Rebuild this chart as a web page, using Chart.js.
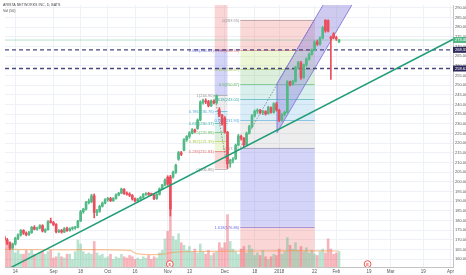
<!DOCTYPE html>
<html lang="en">
<head>
  <meta charset="UTF-8" />
  <title>ARISTA NETWORKS INC, D, BATS</title>
  <style>
    html, body { margin: 0; padding: 0; background: #fff; }
    canvas { display: block; }
  </style>
</head>
<body>
  <canvas id="chart" width="466" height="275"></canvas>

  <script src="https://cdn.jsdelivr.net/npm/chart.js"></script>
  <script>
    // daily bars, x = trading-day number (0 = 1 Sep 2017)
    const firstBar = -18;
    const opens = [
      171.4,170.0,168.4,165.8,167.9,170.9,172.6,174.9,173.5,172.7,
      173.8,176.5,175.6,176.1,177.4,174.5,175.3,179.8,179.0,178.0,
      174.2,174.9,174.1,175.9,174.8,175.8,176.2,176.5,179.8,184.6,
      185.9,189.4,189.8,192.8,184.2,184.9,187.4,189.0,190.8,191.5,
      190.3,191.5,193.2,194.2,196.1,194.0,193.7,193.1,191.2,190.2,
      191.2,192.0,193.5,194.0,193.6,193.4,191.4,193.6,196.4,198.3,
      202.4,202.6,202.6,205.0,211.8,215.0,216.4,221.8,223.5,225.4,
      226.9,227.6,232.0,241.2,242.0,241.6,239.4,241.9,240.9,237.4,
      234.5,233.0,225.6,209.6,211.2,212.0,219.0,223.6,222.6,219.2,
      225.2,228.6,234.2,236.6,237.0,235.8,236.4,235.4,238.4,236.0,
      240.4,237.0,232.0,234.8,236.0,251.8,250.4,252.0,259.2,261.6,
      254.0,260.6,263.6,266.0,268.2,272.4,271.2,274.4,283.6,283.4,
      274.8,276.6,274.6,272.6
    ];
    const highs = [
      172.2,170.8,169.0,168.4,171.4,173.2,175.4,175.3,174.2,174.4,
      177.0,177.4,176.7,177.9,177.9,175.8,180.0,181.3,179.6,178.5,
      175.4,175.5,176.4,176.6,176.3,176.8,177.0,180.2,185.3,186.4,
      190.0,191.2,193.6,193.8,185.8,188.0,189.6,191.4,192.0,192.0,
      191.9,193.8,194.6,196.8,196.6,194.9,194.4,193.5,191.8,191.6,
      192.6,194.0,194.5,194.6,194.2,193.9,194.0,196.9,198.8,201.6,
      203.2,203.4,205.6,209.2,215.8,215.8,222.4,224.0,226.0,227.6,
      227.4,232.6,242.0,242.8,243.0,242.2,242.4,242.5,245.0,238.4,
      235.0,233.8,226.2,211.8,212.6,219.6,224.6,224.2,223.0,225.8,
      229.4,234.8,237.2,237.8,237.6,237.0,236.9,239.2,238.8,241.0,
      241.2,237.6,235.4,236.6,252.4,252.2,252.6,259.8,262.4,262.4,
      261.0,264.2,266.6,268.8,273.0,273.4,275.0,280.4,283.95,283.9,
      275.4,277.2,275.4,273.8
    ];
    const lows = [
      169.6,167.6,165.0,165.2,167.4,170.2,172.0,172.8,172.1,172.3,
      173.4,175.2,175.0,175.7,174.1,173.8,175.0,178.7,177.4,173.6,
      173.8,173.5,173.8,174.4,174.5,175.1,175.5,176.2,179.5,183.8,
      185.4,188.6,189.2,181.4,182.6,184.3,187.0,188.6,190.0,189.8,
      189.9,191.1,192.8,193.9,193.5,193.2,192.4,190.6,189.6,189.9,
      190.7,191.6,193.0,193.0,192.9,190.8,191.0,193.2,196.0,197.9,
      198.2,182.4,202.0,204.4,211.2,213.6,216.0,221.0,222.6,224.8,
      225.6,227.2,231.6,240.2,240.5,238.8,239.0,240.4,240.5,233.8,
      229.4,225.2,206.9,207.6,209.8,211.6,218.6,221.6,218.2,218.8,
      224.8,228.0,233.6,235.4,235.2,234.8,234.6,235.0,235.6,235.6,
      236.6,231.2,231.4,234.2,235.6,249.6,250.0,251.6,258.6,253.0,
      253.6,259.8,263.0,265.6,267.8,270.6,270.8,274.0,277.4,277.6,
      253.0,274.0,273.2,272.0
    ];
    const closes = [
      170.0,168.2,165.8,167.9,170.9,172.6,174.9,173.5,172.7,173.8,
      176.5,175.6,176.1,177.4,174.6,175.3,179.4,179.0,178.0,174.2,
      174.9,174.1,175.9,174.8,175.8,176.2,176.5,179.8,184.6,185.9,
      189.4,190.1,192.8,184.2,184.9,187.4,189.0,190.8,191.5,190.3,
      191.5,193.2,194.2,196.3,194.0,193.7,193.1,191.2,190.2,191.2,
      192.0,193.5,194.0,193.6,193.4,191.4,193.6,196.4,198.3,201.0,
      198.8,186.0,205.0,208.6,215.2,214.3,221.8,223.5,225.4,226.9,
      226.1,232.0,241.2,242.0,241.4,239.4,241.9,240.9,244.4,234.5,
      230.0,226.0,209.4,211.2,211.6,219.0,223.8,222.6,219.2,225.2,
      228.6,234.2,236.6,237.0,235.8,236.4,235.2,238.6,236.0,240.4,
      237.2,232.0,234.8,236.0,251.8,250.4,252.0,259.2,261.6,254.0,
      260.6,263.6,266.0,268.2,272.4,271.2,274.4,279.8,278.2,278.0,
      274.2,274.6,274.0,273.4
    ];
    // volume, millions
    const volumes = [
      2.4,2.1,1.9,1.3,1.1,1.3,1.0,1.0,1.3,1.1,
      1.3,1.0,0.9,1.1,1.2,1.0,1.2,1.3,0.7,0.8,
      1.1,0.8,0.7,1.0,1.0,0.6,1.2,2.1,1.8,1.2,
      1.0,1.1,1.0,2.0,1.1,0.9,1.0,0.7,0.8,1.0,
      0.6,0.8,0.7,1.0,0.8,0.7,0.9,0.8,0.6,0.7,
      0.6,0.8,0.7,0.9,0.6,0.8,0.7,1.1,1.3,2.2,
      2.8,5.1,2.4,2.1,2.6,1.9,1.7,1.3,1.6,1.2,
      1.4,1.1,1.8,1.2,1.0,1.3,0.9,1.1,1.2,1.9,
      1.5,1.9,4.1,2.0,1.4,1.2,1.0,1.4,1.6,1.1,
      1.7,1.4,0.9,1.1,0.9,1.3,0.8,0.6,0.8,1.0,
      0.9,1.4,1.0,1.2,2.3,1.7,1.4,1.9,1.3,1.6,
      1.2,1.5,1.1,1.3,1.0,0.9,1.2,1.4,1.1,2.2,
      1.4,1.0,1.1,1.2
    ];
    const volMaX = [-18, 0, 28, 31, 40, 44, 55, 75, 90, 105];
    const volMaY = [1.38, 1.35, 1.3, 1.02, 1.0, 1.15, 1.22, 1.25, 1.28, 1.25];

    const tickPos = [-14, 0, 10, 20, 30, 42, 50, 63, 74, 83, 96, 104, 116, 124, 136, 146];
    const tickLabels = ['14', 'Sep', '18', 'Oct', '16', 'Nov', '13', 'Dec', '18', '2018', '22', 'Feb', '19', 'Mar', '19', 'Apr'];

    // drawings
    const trendX = [-18, 147];
    const trendY = [154.0, 273.8];
    const hLevels = [268.33, 258.67];
    const fibRatios = [0, 0.236, 0.382, 0.5, 0.618, 0.786, 1, 1.618, 2.618];
    const fib1X = [59.3, 64.0];
    const fib1Levels = [206.86, 215.84, 221.39, 225.88, 230.37, 236.76, 244.90, 268.41, 306.45];
    const fib2X = [68.7, 96.0];
    const fib2Levels = [283.95, 268.33, 258.67, 250.87, 243.05, 231.93, 217.76, 176.86, 110.68];
    const channelX = [82.2, 112];
    const channelTop = [250.9, 322.4];
    const channelBottom = [225.5, 297.0];
    const earningsX = [42.8, 115.5];
    const earningsY = [157.5, 157.5];

    const xMin = -17.8, xMax = 146.9;
    const up = '#53b987', down = '#eb4d5c';
    const fibLine = ['#8a8a8a', '#e05a5a', '#9cc43c', '#4caf50', '#26a69a', '#42a0d8', '#8a8a8a', '#5c5ce0', '#e05a5a'];
    const fibFill = [null, 'rgba(235,90,90,0.24)', 'rgba(170,210,60,0.2)', 'rgba(76,175,80,0.2)', 'rgba(38,166,154,0.18)',
      'rgba(66,160,216,0.2)', 'rgba(140,140,140,0.16)', 'rgba(100,100,230,0.28)', 'rgba(235,90,90,0.25)'];

    Chart.defaults.font.family = '"Liberation Sans", Arial, sans-serif';

    const barX = closes.map((c, i) => firstBar + i);
    const isUp = closes.map((c, i) => c >= opens[i]);
    const lastClose = closes[closes.length - 1];
    const pts = (xs, ys) => xs.map((x, i) => ({ x, y: ys[i] }));

    function drawFib(ctx, x, y, range, levels) {
      const x0 = x.getPixelForValue(range[0]);
      const x1 = x.getPixelForValue(range[1]);
      for (let i = 1; i < levels.length; i++) {
        const ya = y.getPixelForValue(levels[i - 1]);
        const yb = y.getPixelForValue(levels[i]);
        ctx.fillStyle = fibFill[i];
        ctx.fillRect(x0, Math.min(ya, yb), x1 - x0, Math.abs(yb - ya));
      }
      ctx.font = '4px "Liberation Sans", Arial, sans-serif';
      ctx.textAlign = 'right';
      ctx.textBaseline = 'middle';
      levels.forEach((v, i) => {
        const yy = Math.round(y.getPixelForValue(v)) + 0.5;
        ctx.globalAlpha = 0.55;
        ctx.strokeStyle = fibLine[i];
        ctx.lineWidth = 1;
        ctx.beginPath();
        ctx.moveTo(x0, yy);
        ctx.lineTo(x1, yy);
        ctx.stroke();
        ctx.globalAlpha = 0.9;
        ctx.fillStyle = fibLine[i];
        ctx.fillText(fibRatios[i] + '(' + v.toFixed(2) + ')', x0 - 1, yy);
        ctx.globalAlpha = 1;
      });
      // dotted diagonal between the two anchor points
      ctx.setLineDash([1.5, 1.5]);
      ctx.strokeStyle = 'rgba(110,110,110,0.7)';
      ctx.beginPath();
      ctx.moveTo(x0, y.getPixelForValue(levels[6]));
      ctx.lineTo(x1, y.getPixelForValue(levels[0]));
      ctx.stroke();
      ctx.setLineDash([]);
    }

    const drawings = {
      id: 'drawings',
      beforeDatasetsDraw(chart) {
        const { ctx, chartArea: a, scales: { x, y } } = chart;
        ctx.save();
        ctx.beginPath();
        ctx.rect(a.left, a.top, a.right - a.left, a.bottom - a.top);
        ctx.clip();
        drawFib(ctx, x, y, fib1X, fib1Levels);
        drawFib(ctx, x, y, fib2X, fib2Levels);

        const cx0 = x.getPixelForValue(channelX[0]), cx1 = x.getPixelForValue(channelX[1]);
        ctx.beginPath();
        ctx.moveTo(cx0, y.getPixelForValue(channelTop[0]));
        ctx.lineTo(cx1, y.getPixelForValue(channelTop[1]));
        ctx.lineTo(cx1, y.getPixelForValue(channelBottom[1]));
        ctx.lineTo(cx0, y.getPixelForValue(channelBottom[0]));
        ctx.closePath();
        ctx.fillStyle = 'rgba(140,130,220,0.42)';
        ctx.fill();
        ctx.strokeStyle = 'rgba(130,120,215,0.9)';
        ctx.lineWidth = 1;
        ctx.stroke();
        ctx.restore();
      },
      afterDraw(chart) {
        const { ctx, chartArea: a, scales: { y } } = chart;
        ctx.save();
        // price tags on the axis
        const tag = (v, bg) => {
          const yy = y.getPixelForValue(v);
          ctx.fillStyle = bg;
          ctx.fillRect(a.right, yy - 3, 466 - a.right, 6);
          ctx.fillStyle = '#fff';
          ctx.font = '4px "Liberation Sans", Arial, sans-serif';
          ctx.textAlign = 'left';
          ctx.textBaseline = 'middle';
          ctx.fillText(v.toFixed(2), a.right + 2, yy);
        };
        hLevels.forEach(v => tag(v, '#2e2b5c'));
        tag(lastClose, up);

        // earnings letters
        const meta = chart.getDatasetMeta(1);
        ctx.fillStyle = '#ef5350';
        ctx.font = 'bold 4px "Liberation Sans", Arial, sans-serif';
        ctx.textAlign = 'center';
        ctx.textBaseline = 'middle';
        meta.data.forEach(p => ctx.fillText('E', p.x, p.y + 0.3));

        // legend text
        ctx.fillStyle = '#4a4a4a';
        ctx.font = '3.6px "Liberation Sans", Arial, sans-serif';
        ctx.textAlign = 'left';
        ctx.fillText('ARISTA NETWORKS INC, D, BATS', 3, 5);
        ctx.fillText('Vol (50)', 3, 10.5);
        ctx.restore();
      }
    };

    new Chart(document.getElementById('chart'), {
      type: 'bar',
      data: {
        datasets: [
          {
            type: 'line', label: 'Trend', data: pts(trendX, trendY),
            borderColor: '#1f9d77', borderWidth: 1.5, pointRadius: 0, order: 1
          },
          {
            type: 'line', label: 'Earnings', data: pts(earningsX, earningsY), showLine: false,
            pointRadius: 3.4, pointBackgroundColor: '#fff', pointBorderColor: '#ef5350', pointBorderWidth: 1, order: 0
          },
          {
            label: 'Wick', data: barX.map((x, i) => ({ x, y: [lows[i], highs[i]] })),
            backgroundColor: isUp.map(u => u ? up : down), barThickness: 1, grouped: false, order: 4
          },
          {
            label: 'Body', data: barX.map((x, i) => ({ x, y: [opens[i], closes[i]] })),
            backgroundColor: isUp.map(u => u ? up : down), barThickness: 2, minBarLength: 1, grouped: false, order: 3
          },
          {
            label: 'Vol', data: barX.map((x, i) => ({ x, y: volumes[i] })), yAxisID: 'y2',
            backgroundColor: isUp.map(u => u ? 'rgba(83,185,135,0.4)' : 'rgba(235,77,92,0.42)'),
            barThickness: 2, grouped: false, order: 10
          },
          {
            type: 'line', label: 'Vol MA', data: pts(volMaX, volMaY), yAxisID: 'y2',
            borderColor: 'rgba(245,145,70,0.55)', borderWidth: 1.2, pointRadius: 0, tension: 0.4, order: 9
          },
          {
            type: 'line', label: 'Level 1', data: pts([xMin, xMax], [hLevels[0], hLevels[0]]),
            borderColor: '#4a4880', borderDash: [4, 3], borderWidth: 1.3, pointRadius: 0, order: 6
          },
          {
            type: 'line', label: 'Level 2', data: pts([xMin, xMax], [hLevels[1], hLevels[1]]),
            borderColor: '#4a4880', borderDash: [4, 3], borderWidth: 1.3, pointRadius: 0, order: 6
          },
          {
            type: 'line', label: 'Last', data: pts([xMin, xMax], [lastClose, lastClose]),
            borderColor: 'rgba(83,185,135,0.4)', borderWidth: 1, pointRadius: 0, order: 7
          }
        ]
      },
      options: {
        responsive: false,
        animation: false,
        layout: { padding: 0 },
        plugins: { legend: { display: false }, tooltip: { enabled: false } },
        scales: {
          x: {
            type: 'linear', min: xMin, max: xMax, offset: false,
            grid: { color: '#eef1f5', drawTicks: false, offset: false },
            border: { color: '#c4c4c4' },
            ticks: {
              autoSkip: false, maxRotation: 0, padding: 2, color: '#555', font: { size: 4.5 },
              callback: v => tickLabels[tickPos.indexOf(v)] ?? ''
            },
            afterBuildTicks: s => { s.ticks = tickPos.map(v => ({ value: v })); },
            afterFit: s => { s.height = 8; s.paddingLeft = 0; s.paddingRight = 0; }
          },
          y: {
            position: 'right', min: 156.0, max: 291.52,
            grid: { color: '#eef1f5', drawTicks: false },
            border: { color: '#c4c4c4' },
            ticks: {
              stepSize: 5, includeBounds: false, padding: 2, color: '#555', font: { size: 4 },
              callback: v => v.toFixed(2)
            },
            afterFit: s => { s.width = 13; s.paddingTop = 0; s.paddingBottom = 0; }
          },
          y2: { display: false, min: 0, max: 20.5 }
        }
      },
      plugins: [drawings]
    });
  </script>
</body>
</html>
